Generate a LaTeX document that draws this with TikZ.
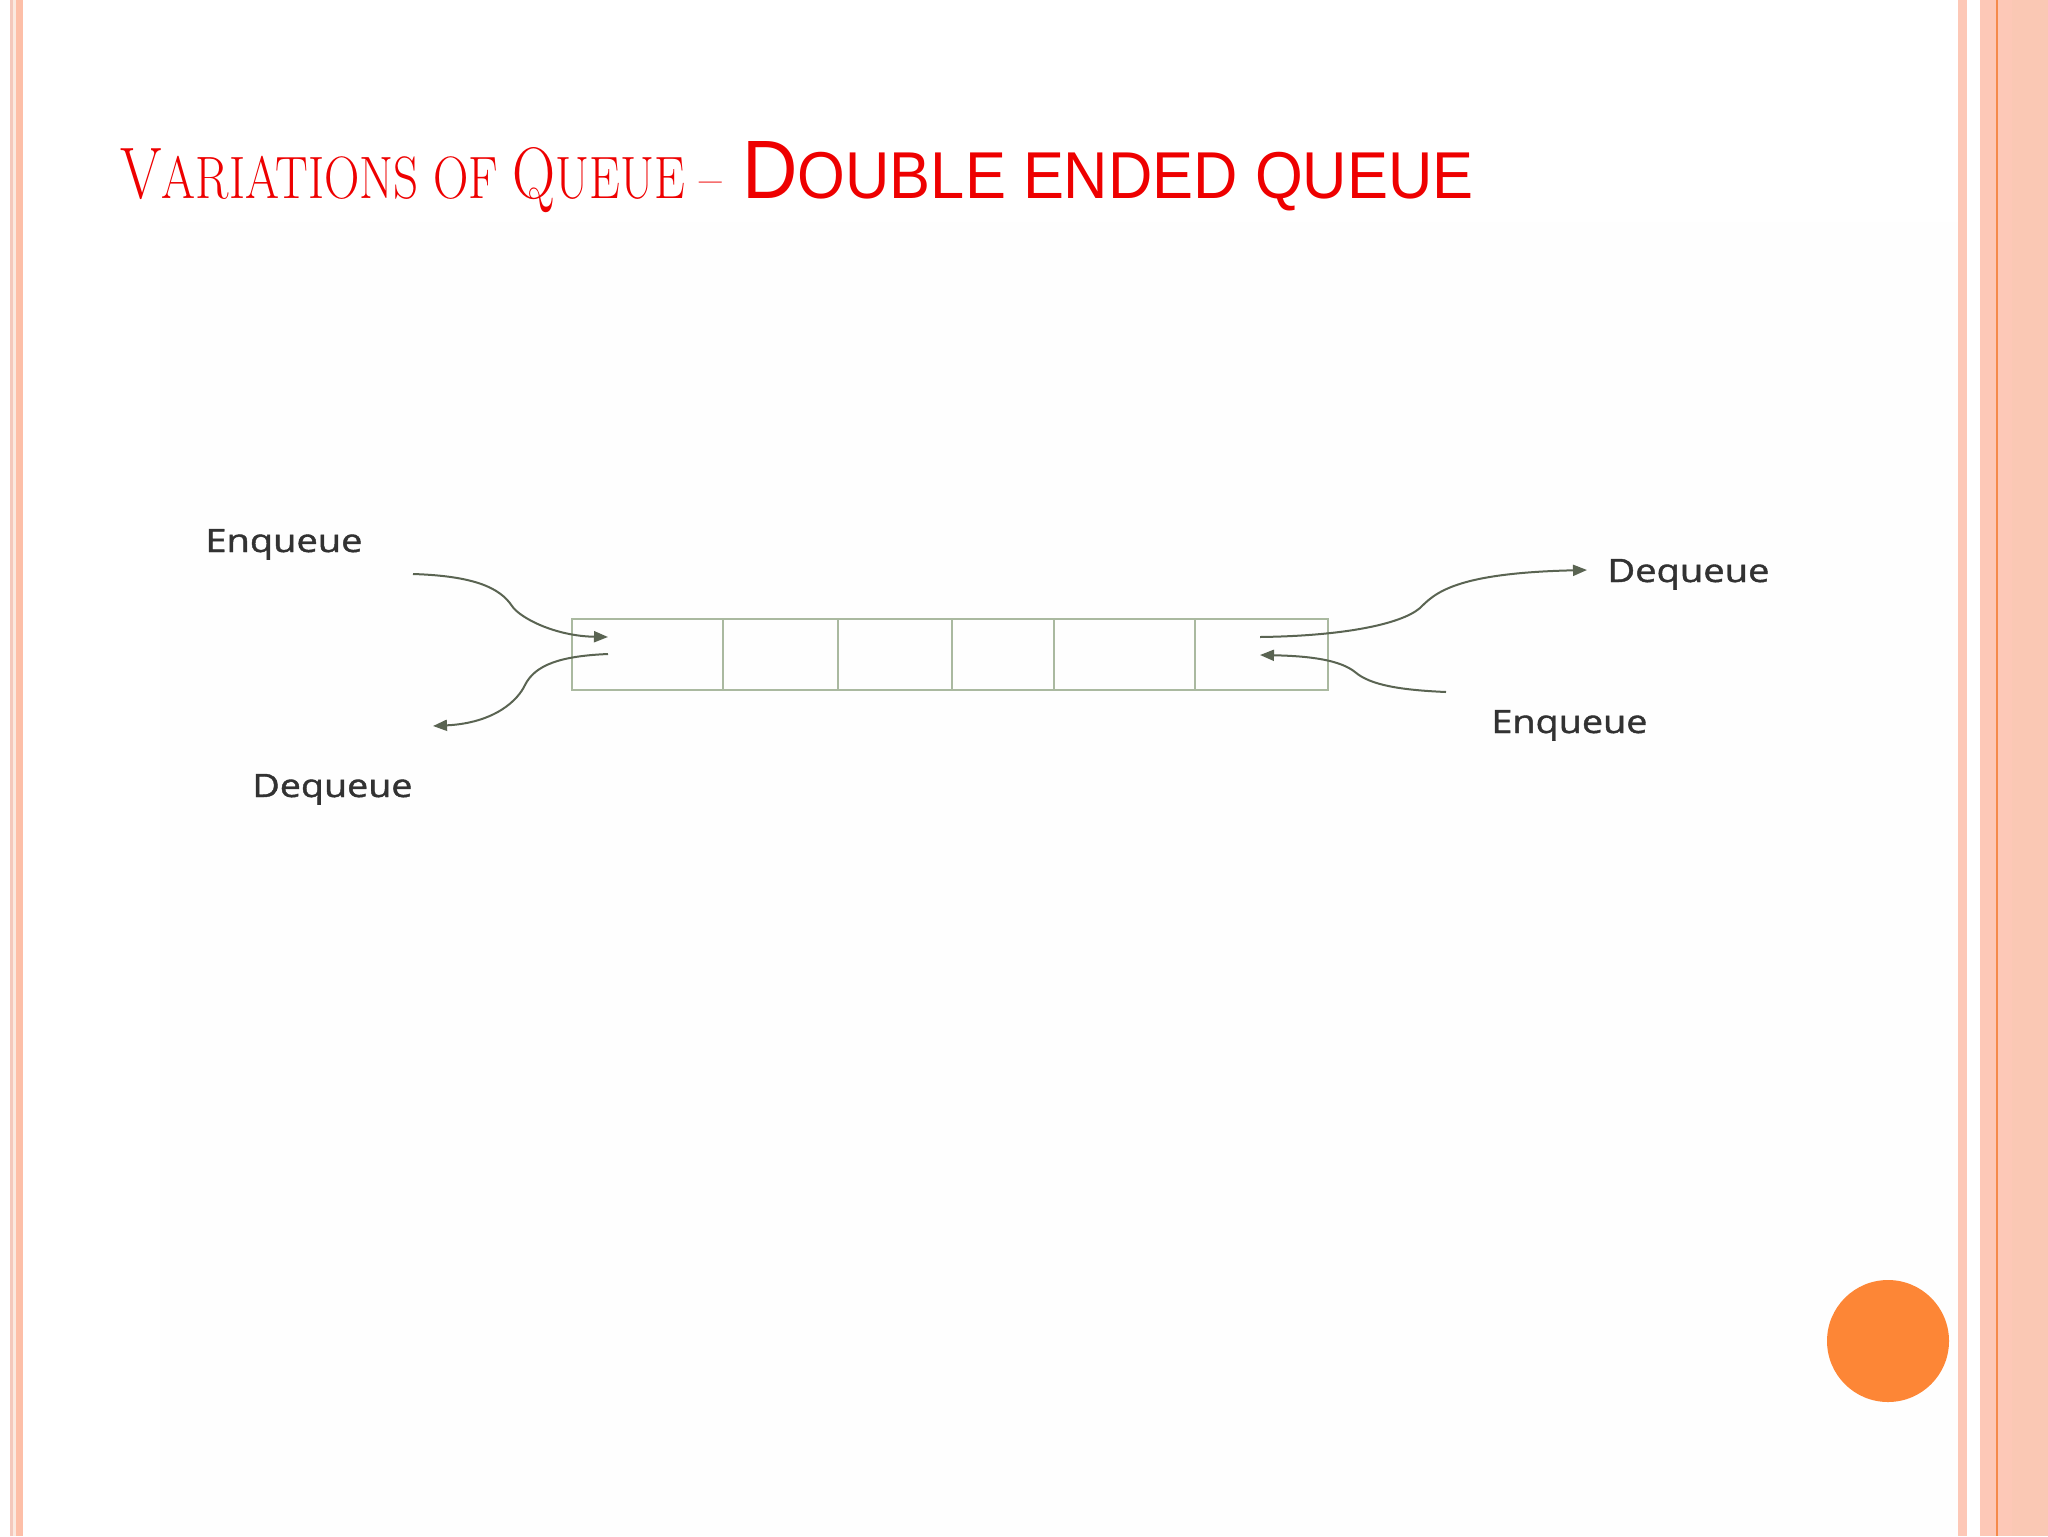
\documentclass[tikz,border=0pt]{standalone}
\usepackage{fontspec}
\usetikzlibrary{arrows.meta}
\newfontfamily\lsans{Liberation Sans}
\newfontfamily\osans{Open Sans}[FakeBold=1.2]
\definecolor{titlered}{RGB}{238,0,0}
\definecolor{stripeA}{RGB}{244,200,188}
\definecolor{stripeB}{RGB}{251,233,224}
\definecolor{stripeC}{RGB}{253,191,168}
\definecolor{stripeD}{RGB}{253,200,183}
\definecolor{stripeE}{RGB}{250,200,180}
\definecolor{lineorange}{RGB}{245,138,75}
\definecolor{dotorange}{RGB}{253,134,54}
\definecolor{cellline}{RGB}{170,185,160}
\definecolor{arrowcol}{RGB}{90,100,82}
\definecolor{labelcol}{RGB}{50,50,50}
\newcommand\qlbl[2]{\resizebox{#1}{11.5bp}{\osans #2}}
\tikzset{
  cell/.style={draw=cellline, line width=0.75bp, inner sep=0pt, minimum height=35.5bp},
  flow/.style={draw=arrowcol, line width=1bp, -{Triangle[length=7bp,width=5.5bp]}},
  qtext/.style={anchor=base west, inner sep=0pt, text=labelcol},
}
\begin{document}
\begin{tikzpicture}[x=0.5bp,y=-0.5bp]
\useasboundingbox (0,0) rectangle (2048,1536);
\fill[white] (0,0) rectangle (2048,1536);
% faint embedded-image area
\fill[black!0.4] (160,222) rectangle (1958,1536);
% left border stripes
\fill[stripeA] (10,0) rectangle (13,1536);
\fill[stripeB] (13,0) rectangle (16,1536);
\fill[stripeC] (16,0) rectangle (23,1536);
% right border stripes
\fill[stripeD] (1958,0) rectangle (1967,1536);
\fill[stripeD] (1980,0) rectangle (1996,1536);
\fill[lineorange] (1996,0) rectangle (1998,1536);
\fill[stripeD] (1998,0) rectangle (2012,1536);
\fill[stripeE] (2012,0) rectangle (2048,1536);
% orange dot
\fill[dotorange] (1888,1341) circle[radius=61];
% title
\node[anchor=base west, inner sep=0pt, text=titlered] (t1) at (120,198)
  {\resizebox{301bp}{25.5bp}{{\fontsize{20}{24}\selectfont V}{\fontsize{16.4}{20}\selectfont ARIATIONS OF }{\fontsize{20}{24}\selectfont Q}{\fontsize{16.4}{20}\selectfont UEUE –}}};
\node[anchor=base west, inner sep=0pt, text=titlered] (t2) at (742,198)
  {\resizebox{365.5bp}{28.5bp}{\lsans{\fontsize{20}{24}\selectfont D}{\fontsize{16}{20}\selectfont OUBLE ENDED QUEUE}}};
% queue cells
\node[cell, minimum width=75.5bp] (c1) at (647.5,654.5) {};
\node[cell, minimum width=57.5bp] (c2) at (780.5,654.5) {};
\node[cell, minimum width=57bp]   (c3) at (895,654.5) {};
\node[cell, minimum width=51bp]   (c4) at (1003,654.5) {};
\node[cell, minimum width=70.5bp] (c5) at (1124.5,654.5) {};
\node[cell, minimum width=66.5bp] (c6) at (1261.5,654.5) {};
% labels
\node[qtext] (enqL) at (205,552) {\qlbl{78.5bp}{Enqueue}};
\node[qtext] (deqL) at (252,797) {\qlbl{80bp}{Dequeue}};
\node[qtext] (deqR) at (1607,582) {\qlbl{81bp}{Dequeue}};
\node[qtext] (enqR) at (1491,733) {\qlbl{78bp}{Enqueue}};
% arrow end points
\coordinate (inL)  at (608,637);
\coordinate (outL) at (608,654);
\coordinate (outR) at (1260,637);
\coordinate (inR)  at (1260,655);
\coordinate (srcL) at (413,574);
\coordinate (dstL) at (433,726);
\coordinate (dstR) at (1587,570);
\coordinate (srcR) at (1446,692);
% connectors
\draw[flow] (srcL) .. controls (475,576) and (500,588) .. (512,606)
  .. controls (520,618) and (555,636) .. (inL);
\draw[flow] (outL) .. controls (560,656) and (535,665) .. (525,685)
  .. controls (518,700) and (495,723) .. (dstL);
\draw[flow] (outR) .. controls (1340,636) and (1400,625) .. (1420,608)
  .. controls (1435,593) and (1455,573) .. (dstR);
\draw[flow] (srcR) .. controls (1400,690) and (1370,685) .. (1355,672)
  .. controls (1340,660) and (1310,656) .. (inR);
\end{tikzpicture}
\end{document}
